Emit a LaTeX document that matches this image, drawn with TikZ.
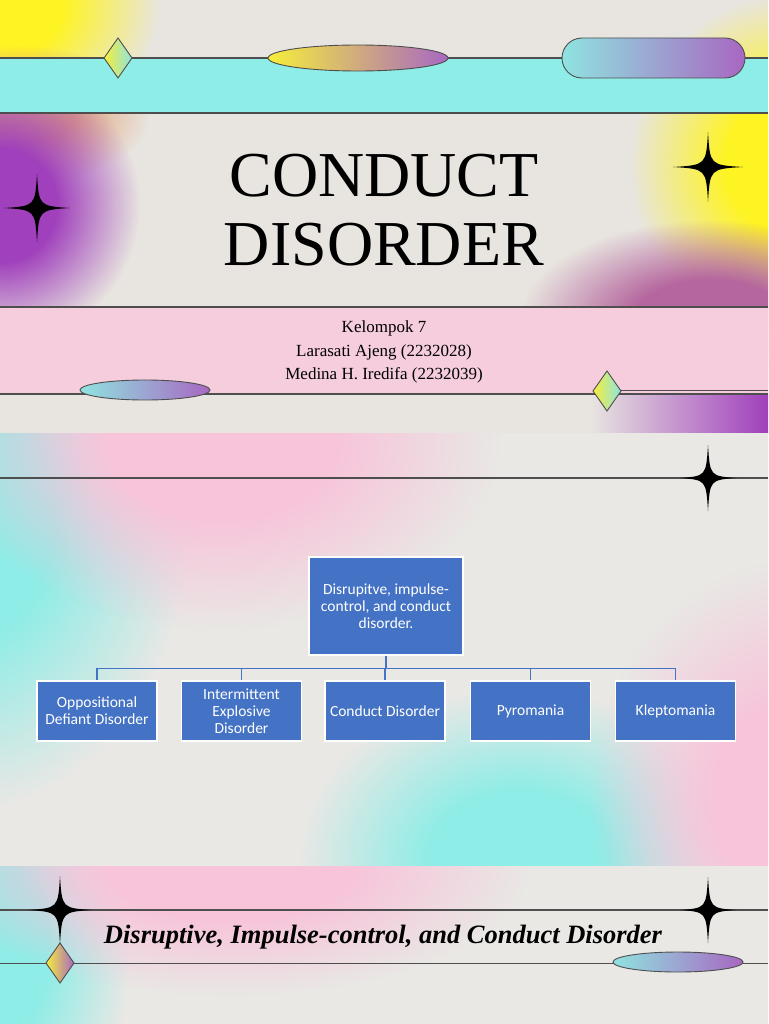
\documentclass[tikz,border=0pt]{standalone}
\usepackage{fontspec}
\setmainfont{Liberation Serif}
\newfontfamily\calibrifont{Carlito}
\usetikzlibrary{fadings}

\definecolor{paper}{HTML}{E8E5E0}
\definecolor{paperb}{HTML}{E9E8E5}
\definecolor{ruleC}{HTML}{4E4E4E}
\definecolor{cyanC}{HTML}{8EEDE7}
\definecolor{pinkC}{HTML}{F5CDDD}
\definecolor{pinkB}{HTML}{F8C4DA}
\definecolor{yelC}{HTML}{FFF423}
\definecolor{orngC}{HTML}{E3A77E}
\definecolor{purpC}{HTML}{A040BC}
\definecolor{mauveC}{HTML}{B5669E}
\definecolor{gradY}{HTML}{F6EE3A}
\definecolor{gradC}{HTML}{8FE3E0}
\definecolor{gradP}{HTML}{A867C2}
\definecolor{boxC}{HTML}{4472C4}

\pgfdeclareradialshading{blobshade}{\pgfpointorigin}{color(0bp)=(white); color(10bp)=(white); color(25bp)=(black); color(50bp)=(black)}
\pgfdeclarefading{blobfade}{\pgfuseshading{blobshade}}

\begin{document}
\begin{tikzpicture}[x=1pt,y=-1pt,
    rule/.style={draw=ruleC,line width=1.3pt},
    blob/.style={fill=#1,path fading=blobfade},
    gem/.style={draw=ruleC,line width=0.9pt},
    orgbox/.style={draw=white,line width=1.2pt,fill=boxC,text=white,align=center,
      font=\calibrifont\fontsize{15.5}{17}\selectfont,inner sep=2pt},
    orgline/.style={draw=boxC,line width=1.4pt}
  ]
  \useasboundingbox (0,0) rectangle (768,1024);

  % slide 1
  \begin{scope}
    \clip (0,0) rectangle (768,433);
    \fill[paper] (0,0) rectangle (768,433);
    \fill[blob=yelC] (0,0) ellipse (160 and 140);
    \fill[blob=orngC] (20,115) ellipse (130 and 70);
    \fill[blob=purpC] (0,205) ellipse (140 and 140);
    \fill[blob=yelC] (790,165) ellipse (160 and 170);
    \fill[blob=mauveC] (710,320) ellipse (190 and 100);
    \shade[left color=paper,right color=purpC] (590,394) rectangle (768,433);
  \end{scope}
  \fill[cyanC] (0,58) rectangle (768,113);
  \fill[pinkC] (0,307) rectangle (768,394);
  \draw[rule] (0,58) -- (768,58);
  \draw[rule] (0,113) -- (768,113);
  \draw[rule] (0,307) -- (768,307);
  \draw[rule] (0,394) -- (768,394);
  \draw[draw=ruleC,line width=0.8pt] (607,390) -- (768,390);

  \shadedraw[gem,left color=gradY,right color=gradP] (358,58) ellipse (90 and 13);
  \shadedraw[gem,left color=gradC,right color=gradP,rounded corners=20] (562,38) rectangle (745,78);
  \shadedraw[gem,left color=gradC,right color=gradP] (145,390) ellipse (65 and 10);

  \node[align=center,font=\fontsize{64}{69}\selectfont] (title) at (384,210) {CONDUCT\\DISORDER};
  \node[align=center,font=\fontsize{17}{23.5}\selectfont] (authors) at (384,352)
    {Kelompok 7\\Larasati Ajeng (2232028)\\Medina H. Iredifa (2232039)};

  % slide 2
  \begin{scope}
    \clip (0,433) rectangle (768,866);
    \fill[paperb] (0,433) rectangle (768,866);
    \fill[blob=cyanC] (-40,520) ellipse (230 and 290);
    \fill[blob=pinkB] (220,440) ellipse (280 and 190);
    \fill[blob=cyanC] (520,860) ellipse (220 and 170);
    \fill[blob=pinkB] (800,800) ellipse (210 and 240);
  \end{scope}
  \draw[rule] (0,478) -- (768,478);

  \node[orgbox,minimum width=154,minimum height=98] (root) at (386,606)
    {Disrupitve, impulse-\\control, and conduct\\disorder.};
  \node[orgbox,minimum width=120,minimum height=60] (odd) at (97,711) {Oppositional\\Defiant Disorder};
  \node[orgbox,minimum width=120,minimum height=60] (ied) at (241.5,711) {Intermittent\\Explosive\\Disorder};
  \node[orgbox,minimum width=120,minimum height=60] (cd) at (385,711) {Conduct Disorder};
  \node[orgbox,minimum width=120,minimum height=60] (pyro) at (530.5,711) {Pyromania};
  \node[orgbox,minimum width=120,minimum height=60] (klepto) at (675.5,711) {Kleptomania};

  \draw[orgline] (root.south) -- ++(0,13) coordinate (bus);
  \foreach \c in {odd,ied,cd,pyro,klepto}
    \draw[orgline] (bus) -| (\c.north);

  % slide 3
  \begin{scope}
    \clip (0,866) rectangle (768,1024);
    \fill[paperb] (0,866) rectangle (768,1024);
    \fill[blob=cyanC] (-10,950) ellipse (140 and 220);
    \fill[blob=pinkB] (230,866) ellipse (300 and 130);
  \end{scope}
  \draw[rule] (0,910) -- (768,910);
  \draw[draw=ruleC,line width=1pt] (0,963) -- (768,963);
  \shadedraw[gem,left color=gradC,right color=gradP] (678,962) ellipse (65 and 10);

  \node[font=\bfseries\itshape\fontsize{26.5}{30}\selectfont] (footer) at (383,937)
    {Disruptive, Impulse-control, and Conduct Disorder};

  % diamonds
  \foreach \dx/\dy/\cl/\cr in {118/58/gradY/gradC, 607/391/gradY/gradC, 60/963/gradY/gradP}
    \shadedraw[gem,left color=\cl,right color=\cr]
      (\dx,\dy-20) -- (\dx+14,\dy) -- (\dx,\dy+20) -- (\dx-14,\dy) -- cycle;

  % sparkles
  \foreach \sx/\sy/\sv/\sh in {37/208/34/33, 708/167/35/35, 708/478/33/28, 60/910/34/32, 708/910/33/28}
    \fill[black] (\sx,\sy-\sv) .. controls (\sx+2,\sy-2) .. (\sx+\sh,\sy)
      .. controls (\sx+2,\sy+2) .. (\sx,\sy+\sv)
      .. controls (\sx-2,\sy+2) .. (\sx-\sh,\sy)
      .. controls (\sx-2,\sy-2) .. cycle;
\end{tikzpicture}
\end{document}
